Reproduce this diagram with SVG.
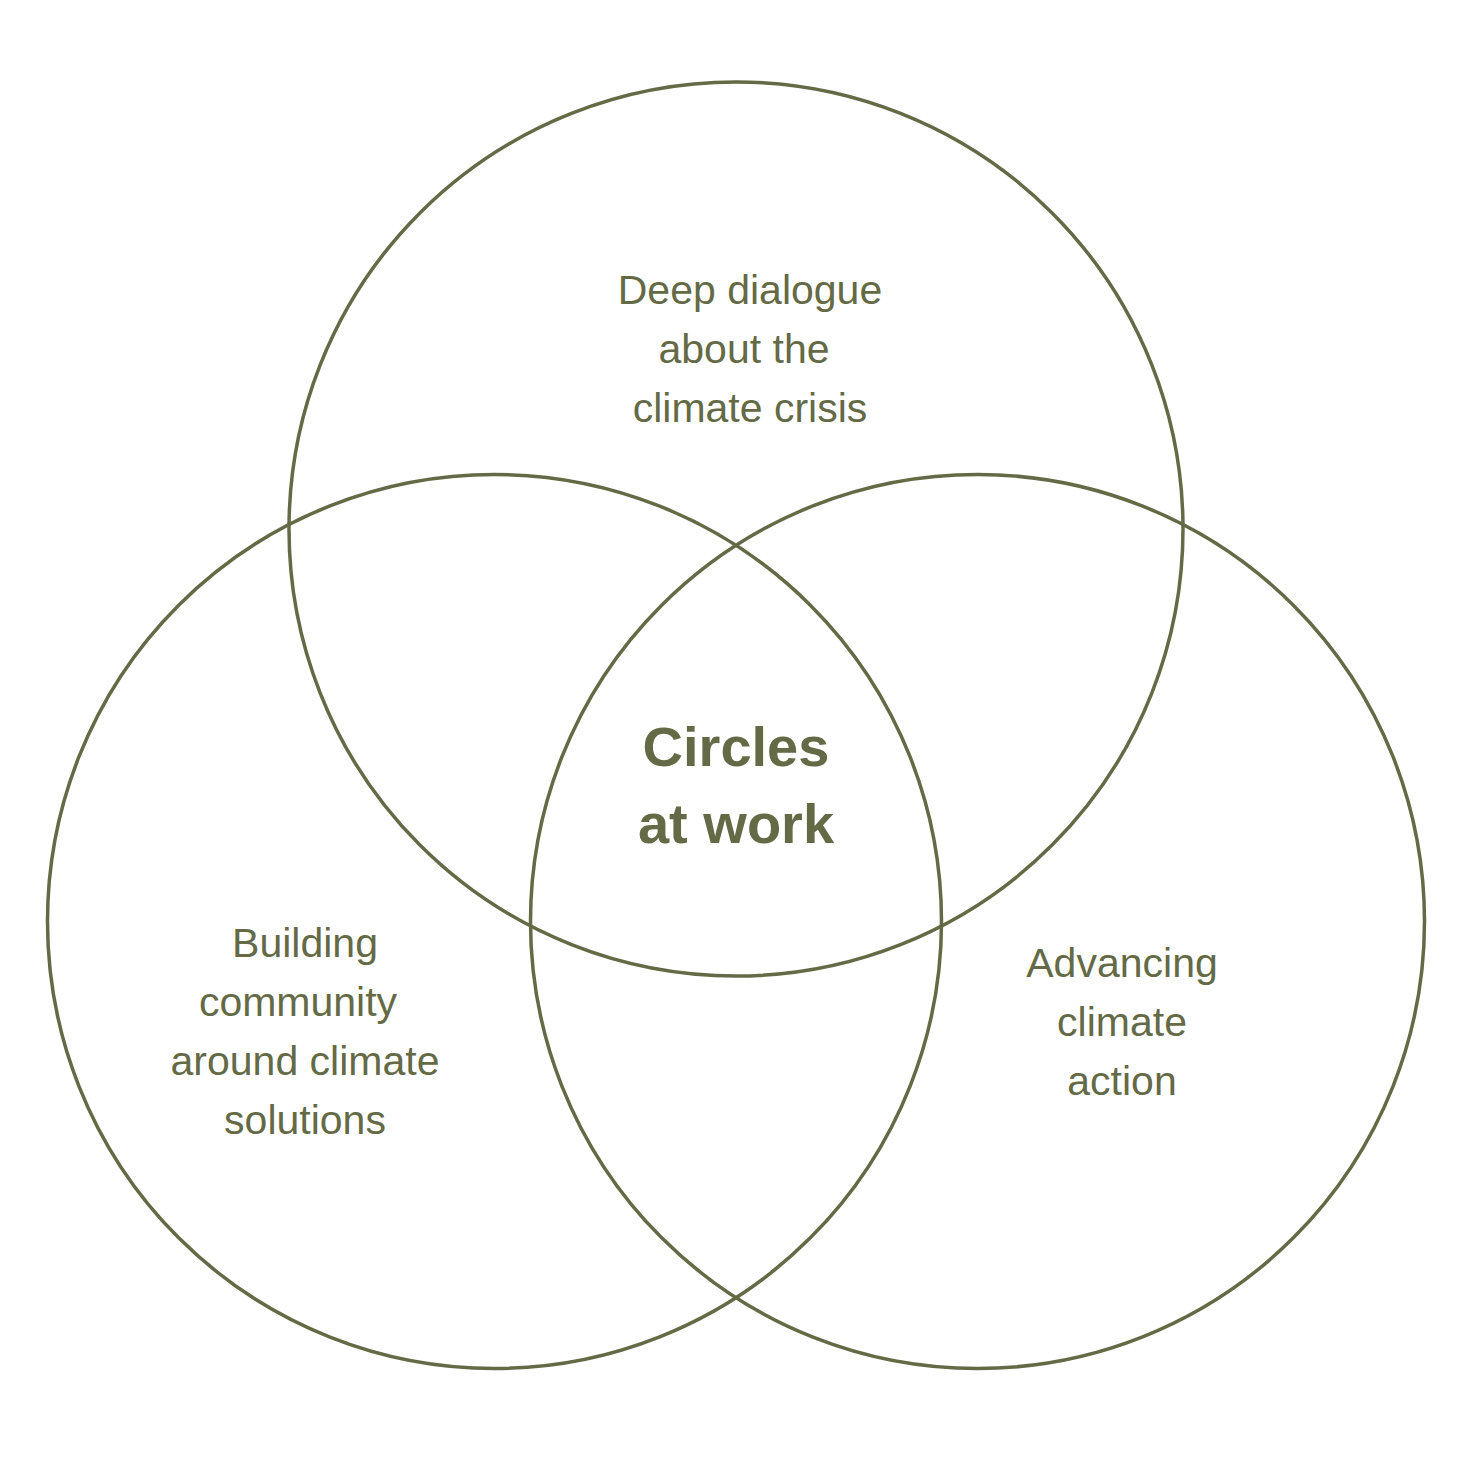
<svg xmlns="http://www.w3.org/2000/svg" width="1472" height="1472" viewBox="0 0 1472 1472">
<style>
.c{fill:none;stroke:#646a46;stroke-width:3.5}
.t{font-family:"Liberation Sans",Arial,sans-serif;font-size:41px;fill:#646a46;text-anchor:middle}
.b{font-family:"Liberation Sans",Arial,sans-serif;font-size:56px;font-weight:bold;fill:#646a46;text-anchor:middle}
</style>
<rect width="1472" height="1472" fill="#fff"/>
<g id="top"><circle class="c" cx="736" cy="529" r="447"/>
<text class="t" x="750" y="304">Deep dialogue</text><text class="t" x="744" y="363">about the</text><text class="t" x="750" y="422">climate crisis</text></g>
<g id="left"><circle class="c" cx="494.5" cy="921.5" r="447"/>
<text class="t" x="305" y="957">Building</text><text class="t" x="298" y="1016">community</text><text class="t" x="305" y="1075">around climate</text><text class="t" x="305" y="1134">solutions</text></g>
<g id="right"><circle class="c" cx="977.5" cy="921.5" r="447"/>
<text class="t" x="1122" y="977">Advancing</text><text class="t" x="1122" y="1036">climate</text><text class="t" x="1122" y="1095">action</text></g>
<g id="center"><text class="b" x="736" y="766">Circles</text><text class="b" x="736" y="843">at work</text></g>
<g id="connectors"/>
</svg>
